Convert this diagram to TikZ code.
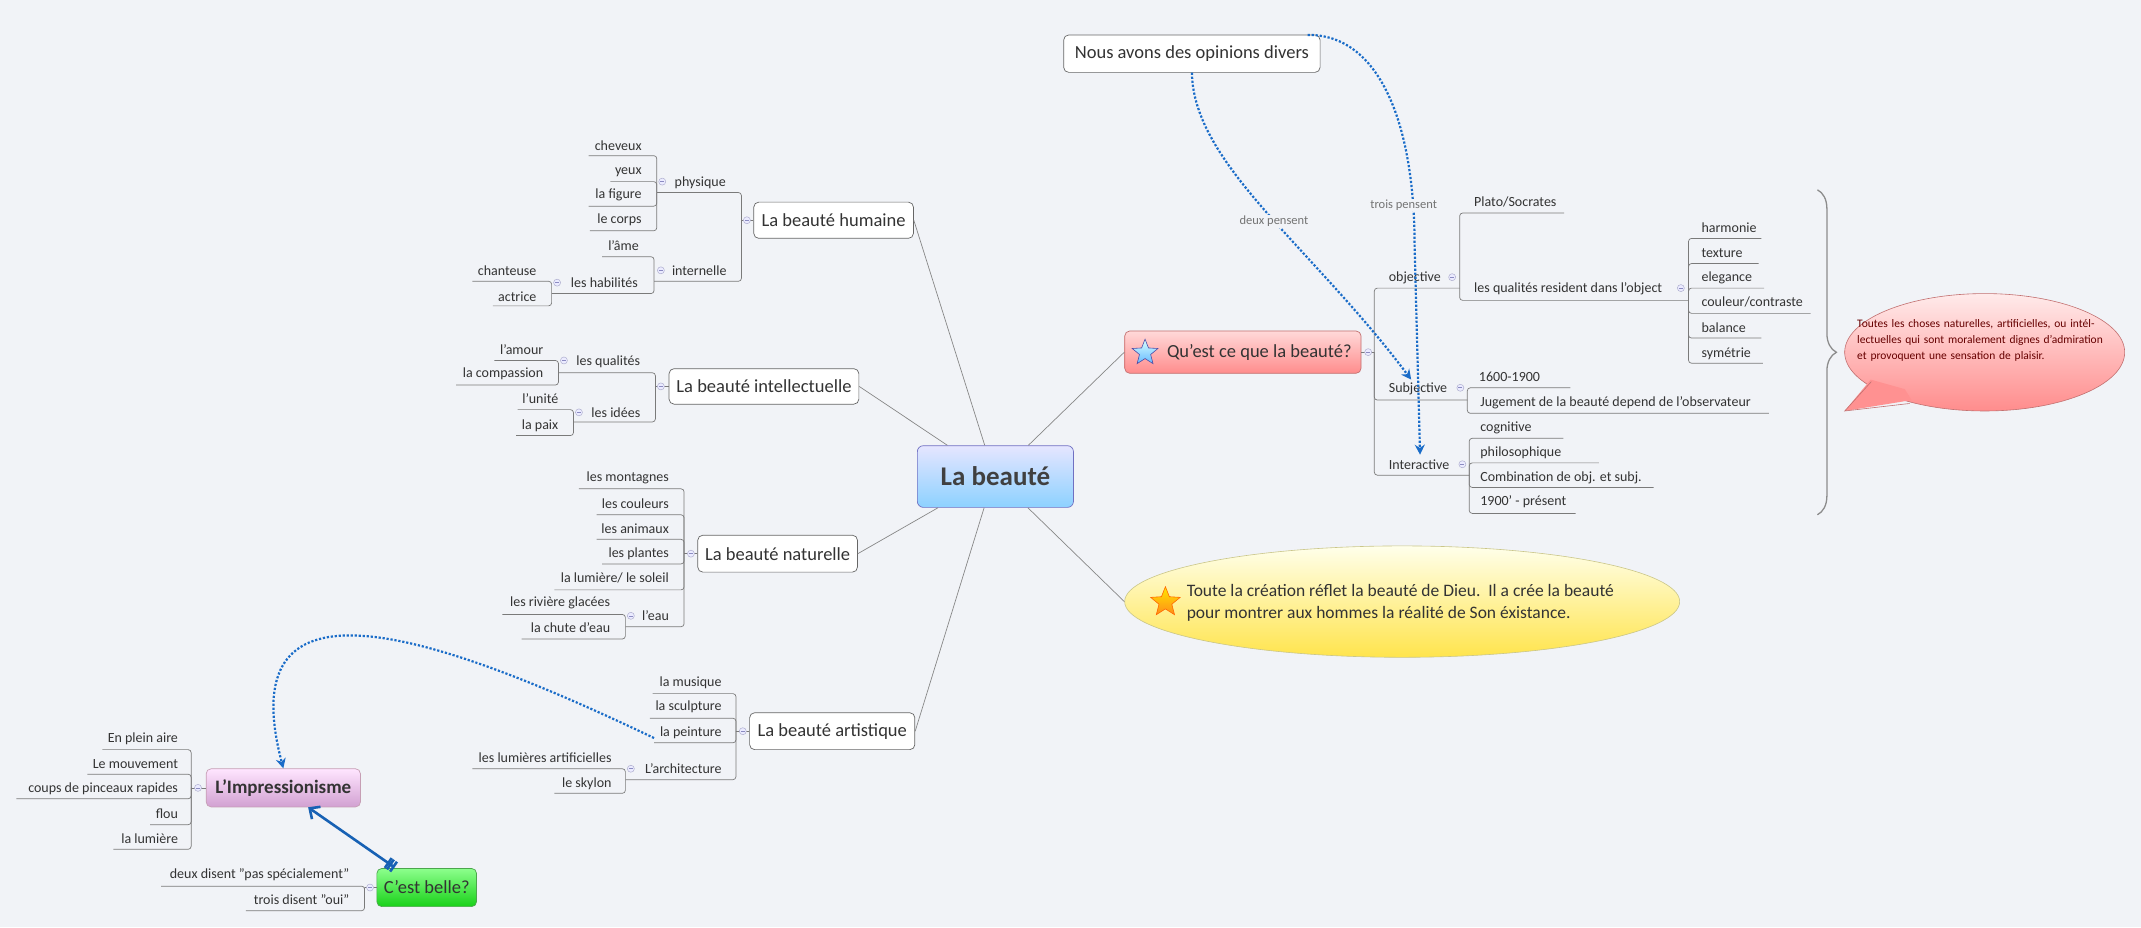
\documentclass[tikz,border=0pt]{standalone}
\usepackage{fontspec}
\setmainfont{Carlito}
\usetikzlibrary{shapes.geometric,arrows.meta,decorations.pathreplacing,calc}
\definecolor{bg}{HTML}{F1F3F7}
\definecolor{txt}{HTML}{333333}
\definecolor{ln}{HTML}{7A7A7A}
\definecolor{blu}{HTML}{1A6CC8}
\tikzset{
  sm/.style={font=\fontsize{14}{16}\selectfont, inner sep=0pt, text=txt},
  ul/.style={draw=ln, line width=0.7pt, rounded corners=3pt},
  mainln/.style={draw=ln!90, line width=0.7pt},
  tb/.style={draw=black!60, fill=white, rounded corners=5pt, line width=0.7pt, font=\fontsize{18.5}{22}\selectfont, text=txt, inner sep=0pt},
  mnc/.style={circle, draw=blue!25!gray!50, fill=blue!8, inner sep=0pt, minimum size=7pt, line width=0.5pt,
    path picture={\draw[blue!30!gray!70, line width=0.6pt] ([xshift=-2pt]path picture bounding box.center) -- ([xshift=2pt]path picture bounding box.center);}},
  dotc/.style={draw=blu, line width=2.2pt, dash pattern=on 2.2pt off 1.8pt, -{Stealth[length=10pt,width=10pt,fill=blu]}},
  lbl/.style={font=\fontsize{12.5}{14}\selectfont, text=black!55, fill=bg, inner sep=1pt},
}
\newcommand\lfL[4]{\node[sm,anchor=base east] (#1) at (#2,#3+3.5) {#4};}
\newcommand\lfR[4]{\node[sm,anchor=base west] (#1) at (#2,#3+3.5) {#4};}
\newcommand\brk[4]{\draw[ul] (#1,#2) |- (#3,#4);}
\newcommand\mnus[2]{\node[mnc] at (#1,#2) {};}
\begin{document}
\begin{tikzpicture}[x=1.3654pt,y=-1.3654pt]
\fill[bg] (0,0) rectangle (1568,679);
\useasboundingbox (0,0) rectangle (1568,679);

% ---------- central & branch boxes
\node[draw=blue!40!gray!80, rounded corners=6pt, line width=0.7pt, top color=blue!10!white, bottom color=blue!40!cyan!45, minimum width=156.1pt, minimum height=61.7pt, inner sep=0pt, font=\fontsize{27}{30}\selectfont\bfseries, text=black!75] (root) at (729,349) {La beauté};
\node[tb, minimum width=159.7pt, minimum height=36.2pt] (hum) at (610.5,161.3) {La beauté humaine};
\node[tb, minimum width=189.8pt, minimum height=35.5pt] (int) at (559.5,283) {La beauté intellectuelle};
\node[tb, minimum width=159.7pt, minimum height=36.9pt] (nat) at (569.5,405.5) {La beauté naturelle};
\node[tb, minimum width=165.2pt, minimum height=36.9pt] (art) at (609.5,535.5) {La beauté artistique};
\node[tb, minimum width=256.4pt, minimum height=37.4pt] (nous) at (872.9,39.3) {Nous avons des opinions divers};
\node[draw=red!40!gray!80, rounded corners=5pt, line width=0.7pt, top color=red!15!white, bottom color=red!45!white, minimum width=236.3pt, minimum height=42.3pt] (quest) at (910.25,257.9) {};
\node[font=\fontsize{18.5}{22}\selectfont, text=txt, inner sep=0pt] (questt) at (922.3,258.5) {Qu'est ce que la beauté?};
\node[star, star points=5, star point ratio=2.3, draw=blue!50!black!70, top color=cyan!15, bottom color=cyan!55!blue!60, minimum size=27pt, inner sep=0pt, line width=0.6pt] (qstar) at (838.6,258.3) {};
\node[draw=magenta!30!gray!70, rounded corners=5pt, line width=0.7pt, top color=magenta!10!white, bottom color=magenta!35!gray!55, minimum width=154.3pt, minimum height=38.2pt, inner sep=0pt, font=\fontsize{19}{22}\selectfont\bfseries, text=black!80] (imp) at (207.5,577) {L'Impressionisme};
\node[draw=green!50!black!70, rounded corners=5pt, line width=0.7pt, top color=green!45!white, bottom color=green!80!black!90, minimum width=99.7pt, minimum height=38.2pt, inner sep=0pt, font=\fontsize{18.5}{22}\selectfont, text=txt] (cest) at (312.5,650) {C'est belle?};
\node[ellipse, draw=yellow!40!gray!80, line width=0.6pt, top color=yellow!8!white, bottom color=yellow!70!orange!70, minimum width=555pt, minimum height=111.4pt, inner sep=0pt] (toute) at (1026.9,440.6) {};
\node[star, star points=5, star point ratio=2.3, draw=orange!80!red, top color=yellow!80!orange, bottom color=orange!90, minimum size=31pt, inner sep=0pt, line width=0.6pt] (tstar) at (853.5,441) {};
\node[anchor=west, align=left, font=\fontsize{17.5}{21.8}\selectfont, text=txt, inner sep=0pt] (toutet) at (869,441.3) {Toute la création réflet la beauté de Dieu.\ \ Il a crée la beauté\\pour montrer aux hommes la réalité de Son éxistance.};

% ---------- main lines
\draw[mainln] ($(root.north west)!0.432!(root.north east)$) -- (hum.east);
\draw[mainln] ($(root.north west)!0.194!(root.north east)$) -- (int.east);
\draw[mainln] ($(root.south west)!0.134!(root.south east)$) -- (nat.east);
\draw[mainln] ($(root.south west)!0.428!(root.south east)$) -- (art.east);
\draw[mainln] ($(root.north west)!0.71!(root.north east)$) -- (quest.west);
\draw[mainln] ($(root.south west)!0.707!(root.south east)$) -- (toute.west);

% ---------- humaine
\draw[ul] (hum.west) -- (543,161.3);
\brk{543}{161.3}{481}{141} \brk{543}{161.3}{479}{206}
\lfR{phys}{494}{133}{physique} \mnus{485}{133}
\lfR{inter}{492}{198}{internelle} \mnus{484}{198}
\brk{481}{141}{431}{114} \brk{481}{141}{447}{133} \brk{481}{141}{431}{151} \brk{481}{141}{432}{169}
\lfL{chev}{470}{107}{cheveux} \lfL{yeux}{470}{124}{yeux} \lfL{fig}{470}{142}{la figure} \lfL{corps}{470}{160}{le corps}
\brk{479}{206}{441}{188} \brk{479}{206}{404}{215}
\lfL{ame}{468}{180}{l'âme} \lfR{habil}{418}{207}{les habilités} \mnus{408}{207}
\brk{404}{215}{346}{206} \brk{404}{215}{361}{224}
\lfL{chant}{393}{198}{chanteuse} \lfL{actr}{393}{217}{actrice}
\mnus{547}{161.3}

% ---------- intellectuelle
\draw[ul] (int.west) -- (480,283);
\brk{480}{283}{409}{273} \brk{480}{283}{420}{309}
\lfR{qual}{422}{264}{les qualités} \mnus{413}{264}
\lfR{idees}{433}{302}{les idées} \mnus{424}{302}
\brk{409}{273}{362}{264} \brk{409}{273}{334}{282}
\lfL{amour}{398}{256}{l'amour} \lfL{comp}{398}{273}{la compassion}
\brk{420}{309}{379}{300} \brk{420}{309}{378}{319}
\lfL{unite}{409}{292}{l'unité} \lfL{paix}{409}{311}{la paix}
\mnus{484}{283}

% ---------- naturelle
\draw[ul] (nat.west) -- (501,405.5);
\brk{501}{405.5}{424}{358} \brk{501}{405.5}{437}{377} \brk{501}{405.5}{437}{395}
\brk{501}{405.5}{441}{413} \brk{501}{405.5}{406}{432} \brk{501}{405.5}{458}{459}
\lfL{mont}{490}{349}{les montagnes} \lfL{coul}{490}{369}{les couleurs} \lfL{anim}{490}{387}{les animaux}
\lfL{plant}{490}{405}{les plantes} \lfL{lum}{490}{423}{la lumière/ le soleil} \lfL{eau}{490}{451}{l'eau}
\mnus{462}{451}
\brk{458}{459}{368}{450} \brk{458}{459}{382}{468}
\lfL{riv}{447}{441}{les rivière glacées} \lfL{chute}{447}{460}{la chute d'eau}
\mnus{506}{405.5}

% ---------- artistique
\draw[ul] (art.west) -- (539,535.5);
\brk{539}{535.5}{478}{508} \brk{539}{535.5}{476}{526} \brk{539}{535.5}{479}{544} \brk{539}{535.5}{458}{571}
\lfL{mus}{528.6}{499}{la musique} \lfL{sculp}{528.6}{517}{la sculpture} \lfL{peint}{528.6}{536}{la peinture}
\lfL{archi}{528.6}{563}{L'architecture} \mnus{462}{563}
\brk{458}{571}{346}{563} \brk{458}{571}{406}{581}
\lfL{lumart}{448}{555}{les lumières artificielles} \lfL{sky}{448}{573}{le skylon}
\mnus{544}{535.5}

% ---------- impressionisme
\draw[ul] (imp.west) -- (140,577);
\brk{140}{577}{75}{549} \brk{140}{577}{64}{567} \brk{140}{577}{12}{585} \brk{140}{577}{110}{604} \brk{140}{577}{83}{622}
\lfL{plein}{130.5}{540}{En plein aire} \lfL{mouv}{130.5}{559}{Le mouvement} \lfL{coups}{130.5}{577}{coups de pinceaux rapides}
\lfL{flou}{130.5}{596}{flou} \lfL{lumi}{130.5}{614}{la lumière}
\mnus{145}{577}

% ---------- c'est belle
\draw[ul] (cest.west) -- (267,650);
\brk{267}{650}{118}{649} \brk{267}{650}{180}{667}
\lfL{deuxd}{256}{640}{deux disent "pas spécialement"} \lfL{troisd}{256}{659}{trois disent "oui"}
\mnus{271}{650}

% ---------- qu'est ce
\draw[ul] (quest.east) -- (1006.5,257.9);
\brk{1006.5}{257.9}{1069}{211} \brk{1006.5}{257.9}{1074.6}{293} \brk{1006.5}{257.9}{1076}{348}
\lfR{obj}{1017}{203}{objective} \mnus{1063.5}{203}
\lfR{subj}{1017}{284}{Subjective} \mnus{1069.5}{284}
\lfR{inta}{1017}{340}{Interactive} \mnus{1071}{340}
\brk{1069}{211}{1145.5}{156} \brk{1069}{211}{1236.6}{220}
\lfR{plato}{1079.5}{148}{Plato/Socrates} \lfR{qres}{1079.5}{211}{les qualités resident dans l'object} \mnus{1231}{211}
\brk{1236.6}{220}{1290}{174.6} \brk{1236.6}{220}{1288}{193} \brk{1236.6}{220}{1292}{211}
\brk{1236.6}{220}{1326}{229.5} \brk{1236.6}{220}{1290}{247.6} \brk{1236.6}{220}{1291}{266}
\lfR{harm}{1246}{167}{harmonie} \lfR{text}{1246}{185}{texture} \lfR{eleg}{1246}{203}{elegance}
\lfR{coulc}{1246}{221}{couleur/contraste} \lfR{bal}{1246}{240}{balance} \lfR{sym}{1246}{258}{symétrie}
\brk{1074.6}{293}{1150}{284} \brk{1074.6}{293}{1295.5}{302.7}
\lfR{dates}{1083}{276}{1600-1900} \lfR{jug}{1084}{294}{Jugement de la beauté depend de l'observateur}
\brk{1076}{348}{1145}{321} \brk{1076}{348}{1171}{339} \brk{1076}{348}{1211}{357} \brk{1076}{348}{1154}{376}
\lfR{cog}{1084}{312.5}{cognitive} \lfR{philo}{1084}{331}{philosophique}
\lfR{comb}{1084}{349}{Combination de obj. et subj.} \lfR{pres}{1084}{367}{1900' - présent}
\mnus{1002}{257.9}

% ---------- brace and callout
\draw[draw=black!45, line width=1.3pt, decorate, decoration={brace, amplitude=19pt}] (1331,139) -- (1331,377);
\node[ellipse, draw=red!40!gray!80, line width=0.6pt, top color=red!8!white, bottom color=red!45!white, minimum width=280pt, minimum height=117.4pt, inner sep=0pt] (call) at (1453.5,258) {};
\fill[red!43!white] (1370,278) -- (1351,301) -- (1400,293) -- (1395,285) -- cycle;
\draw[draw=red!40!gray!80, line width=0.6pt] (1370.5,279.5) -- (1351,301) -- (1398.5,295.5);
\node[anchor=north west, align=left, text width=252pt, font=\fontsize{11.5}{16}\selectfont, text=red!40!black, inner sep=0pt] (callt) at (1360,234) {Toutes les choses naturelles, artificielles, ou intéllectuelles qui sont moralement dignes d'admiration et provoquent une sensation de plaisir.};

% ---------- relationship curves
\coordinate (dend) at (1033.5,278);
\coordinate (tend) at (1040,333);
\coordinate (nouste) at (957.7,25.6);
\draw[dotc] (nous.south) .. controls (874,120) and (960,180) .. (dend);
\draw[dotc] (nouste) .. controls (1010,25) and (1036,90) .. (1036,180) -- (tend);
\node[lbl] at (933,162) {deux pensent};
\node[lbl] at (1028,150) {trois pensent};
\coordinate (pstart) at (479,540.5);
\draw[dotc] (pstart) .. controls (300,455) and (170,420) .. (imp.north);
\draw[draw=blu!90!black, line width=2.6pt, {Bar[width=12pt,sep=1.2pt]Bar[width=12pt,sep=1.2pt]Bar[width=12pt]}-{Straight Barb[length=8pt,width=15pt]}] ($(cest.north west)!0.19!(cest.north east)$) -- ($(imp.south west)!0.66!(imp.south east)$);
\end{tikzpicture}
\end{document}
